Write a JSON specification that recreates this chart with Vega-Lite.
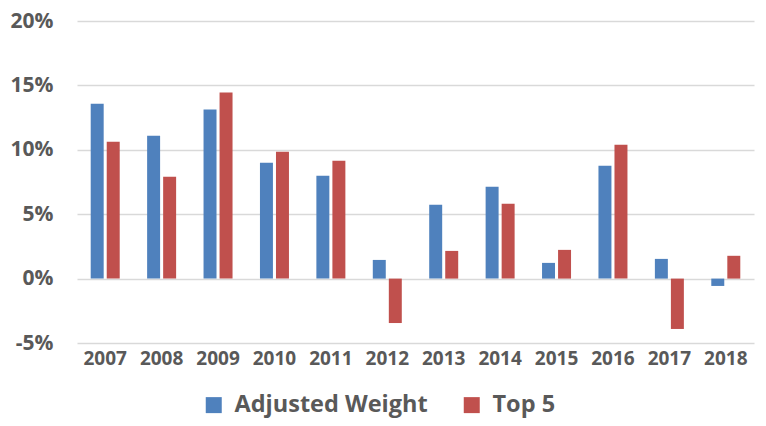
{
  "$schema": "https://vega.github.io/schema/vega-lite/v6.json",
  "width": 677,
  "height": 322,
  "autosize": {"type": "none"},
  "padding": {"left": 77, "top": 21, "right": 12, "bottom": 83},
  "background": "white",
  "config": {
    "view": {"stroke": null},
    "font": "Open Sans"
  },
  "data": {
    "values": [
      {"year": "2007", "series": "Adjusted Weight", "value": 0.1358},
      {"year": "2007", "series": "Top 5", "value": 0.1063},
      {"year": "2008", "series": "Adjusted Weight", "value": 0.111},
      {"year": "2008", "series": "Top 5", "value": 0.0791},
      {"year": "2009", "series": "Adjusted Weight", "value": 0.1312},
      {"year": "2009", "series": "Top 5", "value": 0.1444},
      {"year": "2010", "series": "Adjusted Weight", "value": 0.09},
      {"year": "2010", "series": "Top 5", "value": 0.0985},
      {"year": "2011", "series": "Adjusted Weight", "value": 0.0799},
      {"year": "2011", "series": "Top 5", "value": 0.0915},
      {"year": "2012", "series": "Adjusted Weight", "value": 0.0145},
      {"year": "2012", "series": "Top 5", "value": -0.0345},
      {"year": "2013", "series": "Adjusted Weight", "value": 0.0573},
      {"year": "2013", "series": "Top 5", "value": 0.0215},
      {"year": "2014", "series": "Adjusted Weight", "value": 0.0713},
      {"year": "2014", "series": "Top 5", "value": 0.0581},
      {"year": "2015", "series": "Adjusted Weight", "value": 0.0122},
      {"year": "2015", "series": "Top 5", "value": 0.0223},
      {"year": "2016", "series": "Adjusted Weight", "value": 0.0876},
      {"year": "2016", "series": "Top 5", "value": 0.104},
      {"year": "2017", "series": "Adjusted Weight", "value": 0.0153},
      {"year": "2017", "series": "Top 5", "value": -0.0391},
      {"year": "2018", "series": "Adjusted Weight", "value": -0.0057},
      {"year": "2018", "series": "Top 5", "value": 0.0177}
    ]
  },
  "mark": {"type": "bar"},
  "encoding": {
    "x": {
      "field": "year",
      "type": "nominal",
      "scale": {"paddingInner": 0.486, "paddingOuter": 0.243},
      "axis": {
        "title": null,
        "labelAngle": 0,
        "domain": false,
        "ticks": false,
        "labelPadding": 6,
        "labelFontSize": 19,
        "labelFontWeight": "bold",
        "labelColor": "#595959"
      }
    },
    "xOffset": {
      "field": "series",
      "scale": {"paddingInner": 0.19, "paddingOuter": 0}
    },
    "y": {
      "field": "value",
      "type": "quantitative",
      "scale": {"domain": [-0.05, 0.2], "nice": false, "zero": false},
      "axis": {
        "title": null,
        "values": [-0.05, 0, 0.05, 0.1, 0.15, 0.2],
        "labelExpr": "replace(format(datum.value, '.0%'), '\u2212', '-')",
        "domain": false,
        "ticks": false,
        "labelPadding": 24,
        "labelFontSize": 21,
        "labelFontWeight": "bold",
        "labelColor": "#595959",
        "gridColor": "#d9d9d9",
        "gridWidth": 1.5
      }
    },
    "color": {
      "field": "series",
      "type": "nominal",
      "scale": {"domain": ["Adjusted Weight", "Top 5"], "range": ["#4f81bd", "#c0504d"]},
      "legend": {
        "title": null,
        "orient": "none",
        "direction": "horizontal",
        "legendX": 125,
        "legendY": 372,
        "padding": 0,
        "symbolType": "square",
        "symbolSize": 256,
        "symbolStrokeWidth": 0,
        "symbolOpacity": 1,
        "labelFontSize": 23.5,
        "labelFontWeight": "bold",
        "labelColor": "#595959",
        "labelOffset": 9,
        "columnPadding": 32,
        "labelLimit": 400
      }
    }
  }
}
